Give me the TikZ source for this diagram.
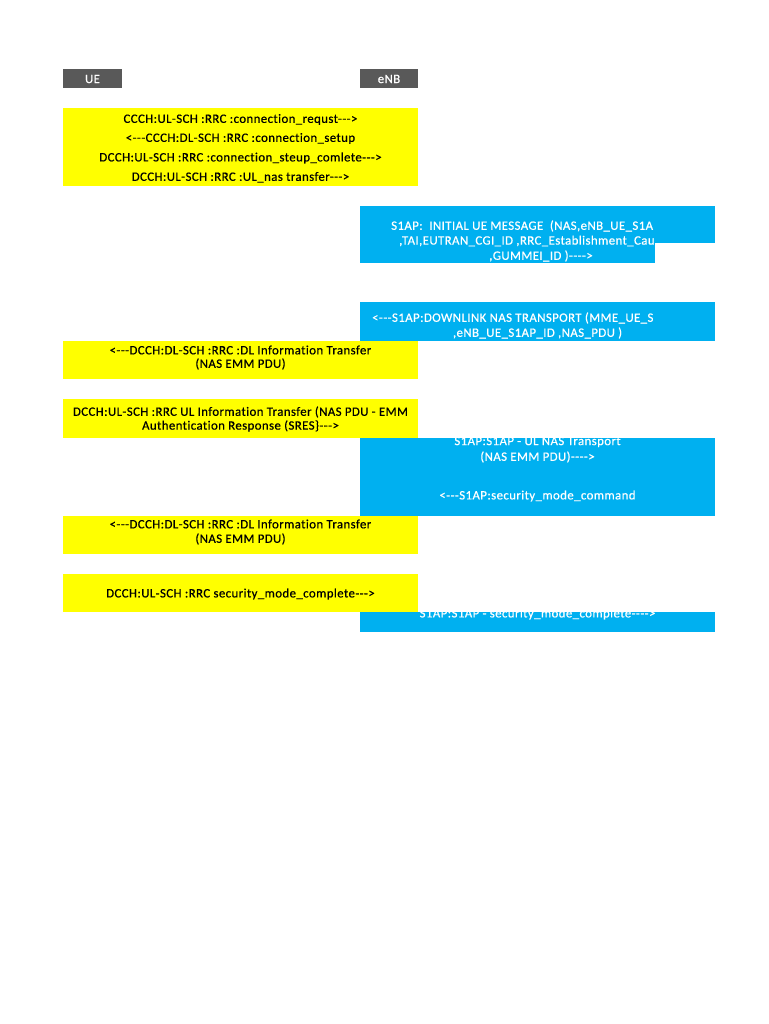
\documentclass[tikz,border=0pt]{standalone}
\usepackage{fontspec}
\setmainfont{Carlito}[Ligatures={TeXOff,NoCommon}, LetterSpace=3.3, FakeBold=0.5]
\definecolor{ybg}{HTML}{FFFF00}
\definecolor{bbg}{HTML}{00B0F0}
\definecolor{gbg}{HTML}{595959}
\begin{document}
\begin{tikzpicture}[x=1pt,y=-1pt,
  box/.style={rectangle, draw=none, inner sep=0pt, outer sep=0pt, anchor=north west},
  ybox/.style={box, fill=ybg},
  bbox/.style={box, fill=bbg},
  gbox/.style={box, fill=gbg},
  txt/.style={inner sep=0pt, font=\fontsize{12.8}{15}\selectfont},
  dtxt/.style={txt, text=black},
  wtxt/.style={txt, text=white}]
\useasboundingbox (0,0) rectangle (768,1024);
\fill[white] (0,0) rectangle (768,1024);

% header
\node[gbox, minimum width=59pt, minimum height=19pt] (ue) at (63,69) {};
\node[wtxt] (uet) at (92.5,79) {UE};
\node[gbox, minimum width=58pt, minimum height=19pt] (enb) at (360,69) {};
\node[wtxt] (enbt) at (389,79) {eNB};

% yellow 1
\node[ybox, minimum width=355pt, minimum height=78pt] (y1) at (63,108) {};
\node[dtxt] (y1a) at (240.5,119.5) {CCCH:UL-SCH :RRC :connection\_requst--->};
\node[dtxt] (y1b) at (240.5,138.5) {<---CCCH:DL-SCH :RRC :connection\_setup};
\node[dtxt] (y1c) at (240.5,158) {DCCH:UL-SCH :RRC :connection\_steup\_comlete--->};
\node[dtxt] (y1d) at (240.5,177.3) {DCCH:UL-SCH :RRC :UL\_nas transfer--->};

% blue 1
\node[bbox, minimum width=355pt, minimum height=37pt] (b1) at (360,206) {};
\node[bbox, minimum width=295pt, minimum height=20pt] (b1l) at (360,243) {};
\begin{scope}
\clip (360,206) rectangle (657,263);
\node[wtxt, anchor=west] (b1a) at (391,226) {S1AP:\ \ INITIAL UE MESSAGE\ \ (NAS,eNB\_UE\_S1A};
\node[wtxt, anchor=west] (b1b) at (399,241) {,TAI,EUTRAN\_CGI\_ID ,RRC\_Establishment\_Cau};
\node[wtxt] (b1c) at (541,256) {,GUMMEI\_ID )---->};
\end{scope}

% blue 2
\node[bbox, minimum width=355pt, minimum height=39pt] (b2) at (360,302) {};
\begin{scope}
\clip (360,302) rectangle (657,341);
\node[wtxt, anchor=west] (b2a) at (372,318) {<---S1AP:DOWNLINK NAS TRANSPORT (MME\_UE\_S};
\node[wtxt] (b2b) at (537.5,333) {,eNB\_UE\_S1AP\_ID ,NAS\_PDU )};
\end{scope}

% yellow 2
\node[ybox, minimum width=355pt, minimum height=38pt] (y2) at (63,341) {};
\node[dtxt] (y2a) at (240.5,350) {<---DCCH:DL-SCH :RRC :DL Information Transfer};
\node[dtxt] (y2b) at (240.5,364) {(NAS EMM PDU)};

% yellow 3
\node[ybox, minimum width=355pt, minimum height=39pt] (y3) at (63,399) {};
\node[dtxt] (y3a) at (240.5,412) {DCCH:UL-SCH :RRC UL Information Transfer (NAS PDU - EMM};
\node[dtxt] (y3b) at (240.5,426) {Authentication Response (SRES\}--->};

% blue 3
\node[bbox, minimum width=355pt, minimum height=78pt] (b3) at (360,438) {};
\begin{scope}
\clip (360,438) rectangle (715,516);
\node[wtxt] (b3a) at (537.5,442) {S1AP:S1AP - UL NAS Transport};
\node[wtxt] (b3b) at (537.5,457) {(NAS EMM PDU)---->};
\node[wtxt] (b3c) at (537.5,496) {<---S1AP:security\_mode\_command};
\end{scope}

% yellow 4
\node[ybox, minimum width=355pt, minimum height=38pt] (y4) at (63,516) {};
\node[dtxt] (y4a) at (240.5,524) {<---DCCH:DL-SCH :RRC :DL Information Transfer};
\node[dtxt] (y4b) at (240.5,539) {(NAS EMM PDU)};

% yellow 5
\node[ybox, minimum width=355pt, minimum height=38pt] (y5) at (63,574) {};
\node[dtxt] (y5a) at (240.5,594) {DCCH:UL-SCH :RRC security\_mode\_complete--->};

% blue 4
\node[bbox, minimum width=355pt, minimum height=20pt] (b4) at (360,612) {};
\begin{scope}
\clip (360,612) rectangle (715,632);
\node[wtxt] (b4a) at (537.5,614) {S1AP:S1AP - security\_mode\_complete---->};
\end{scope}
\end{tikzpicture}
\end{document}
